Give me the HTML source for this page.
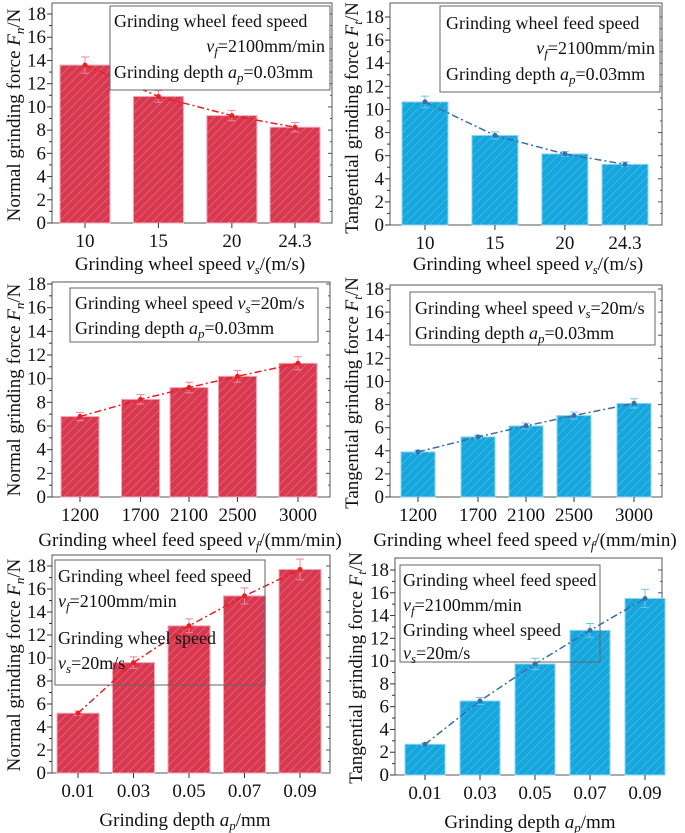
<!DOCTYPE html>
<html><head><meta charset="utf-8"><style>
html,body{margin:0;padding:0;background:#fff;}
svg{display:block;}
svg text{font-family:"Liberation Serif","Times New Roman",serif;}
</style></head><body>
<svg id="fig" width="685" height="833" viewBox="0 0 685 833" xmlns="http://www.w3.org/2000/svg" font-family="Liberation Serif, serif">
<defs>
<pattern id="hatchRed" patternUnits="userSpaceOnUse" width="6" height="6" patternTransform="rotate(45)">
<rect width="6" height="6" fill="#d8384f"/><line x1="0" y1="0" x2="0" y2="6" stroke="#e86a7c" stroke-width="1.5"/></pattern>
<pattern id="hatchBlue" patternUnits="userSpaceOnUse" width="6" height="6" patternTransform="rotate(45)">
<rect width="6" height="6" fill="#14a6dd"/><line x1="0" y1="0" x2="0" y2="6" stroke="#4cbde8" stroke-width="1.5"/></pattern>
</defs>
</svg>
<script>
// ---- data ----
const p1Cats=[10,15,20,24.3];
const p1Labels=["10","15","20","24.3"];
const p1Vals=[13.6,10.9,9.25,8.25];
const p1Err=[0.7,0.5,0.45,0.4];
const p2Vals=[10.65,7.75,6.15,5.25];
const p2Err=[0.5,0.3,0.2,0.2];
const p3Cats=[1200,1700,2100,2500,3000];
const p3Labels=["1200","1700","2100","2500","3000"];
const p3Vals=[6.8,8.25,9.25,10.2,11.3];
const p3Err=[0.35,0.4,0.45,0.5,0.55];
const p4Vals=[3.9,5.2,6.15,7.05,8.1];
const p4Err=[0.15,0.15,0.25,0.3,0.4];
const p5Cats=[0,1,2,3,4];
const p5Labels=["0.01","0.03","0.05","0.07","0.09"];
const p5Vals=[5.2,9.6,12.8,15.4,17.7];
const p5Err=[0.2,0.5,0.6,0.7,0.9];
const p6Vals=[2.7,6.5,9.75,12.7,15.5];
const p6Err=[0.1,0.3,0.5,0.6,0.8];
const yTicks=[0,2,4,6,8,10,12,14,16,18];

const svg=document.getElementById('fig');
const NS="http://www.w3.org/2000/svg";
const FF='"Liberation Serif", serif';
function mk(tag,attrs,parent){const e=document.createElementNS(NS,tag);for(const k in attrs)e.setAttribute(k,attrs[k]);(parent||svg).appendChild(e);return e;}
function rich(parent,x,y,parts,anchor,fs){
  const t=mk('text',{x:x,y:y,'font-size':fs||18,'font-family':FF,'text-anchor':anchor||'start',fill:'#111'},parent);
  parts.forEach(p=>{const s=document.createElementNS(NS,'tspan');
    if(p.i)s.setAttribute('font-style','italic');
    if(p.sub){s.setAttribute('font-size',13);s.setAttribute('dy',4);}
    if(p.up){s.setAttribute('dy',-4);}
    s.textContent=p.t;t.appendChild(s);});
  return t;
}
function panel(c){
  const g=mk('g',{});
  
  
  const ys=v=>c.y0-(c.y0-c.y18)*v/18;
  const xs=v=>c.px0+(c.px1-c.px0)*(v-c.d0)/(c.d1-c.d0);
  const fr=mk('rect',{x:c.L,y:c.T,width:c.R-c.L,height:c.y0-c.T,fill:'none',stroke:'#555','stroke-width':1},g);
  
  
  yTicks.forEach(v=>{
    const y=ys(v);
    mk('line',{x1:c.L-5,x2:c.L,y1:y,y2:y,stroke:'#333'},g);
    mk('line',{x1:c.R,x2:c.R-4,y1:y,y2:y,stroke:'#555'},g);
    if(v<18){const ym=ys(v+1);mk('line',{x1:c.L-3,x2:c.L,y1:ym,y2:ym,stroke:'#333'},g);mk('line',{x1:c.R,x2:c.R-2,y1:ym,y2:ym,stroke:'#555'},g);}
    const t=mk('text',{x:c.L-6,y:y+6,'font-size':19,'font-family':FF,'text-anchor':'end',fill:'#111'},g);
    t.textContent=String(v);
    
    
  });
  const pts=[];
  c.cats.forEach((cv,i)=>{
    const x=xs(cv),v=c.vals[i],e=c.err[i];
    const b=mk('rect',{x:x-c.bw/2,y:ys(v),width:c.bw,height:c.y0-ys(v),fill:c.fill,stroke:c.edge,'stroke-width':1},g);
    
    
    mk('line',{x1:x,x2:x,y1:ys(v+e),y2:ys(v-e),stroke:c.errc,'stroke-width':1},g);
    mk('line',{x1:x-4,x2:x+4,y1:ys(v+e),y2:ys(v+e),stroke:c.errc},g);
    mk('line',{x1:x-4,x2:x+4,y1:ys(v-e),y2:ys(v-e),stroke:c.errc},g);
    pts.push([x,ys(v)]);
    mk('line',{x1:x,x2:x,y1:c.y0,y2:c.y0+5,stroke:'#333'},g);
    const t=mk('text',{x:x,y:c.y0+24,'font-size':19,'font-family':FF,'text-anchor':'middle',fill:'#111'},g);
    t.textContent=c.labels[i];
    
    
  });
  const ln=mk('polyline',{points:pts.map(p=>p.join(',')).join(' '),fill:'none',stroke:c.line,'stroke-width':1.5,'stroke-dasharray':'7 3 2 3'},g);
  
  
  pts.forEach(p=>{mk('circle',{cx:p[0],cy:p[1],r:2.5,fill:c.line},g);});
  const lb=mk('rect',{x:c.lg[0],y:c.lg[1],width:c.lg[2]-c.lg[0],height:c.lg[3]-c.lg[1],fill:c.lgFill,stroke:'#666'},g);
  
  
  c.lgLines.forEach(l=>{const t=rich(g,l.x,l.y,l.parts,l.a,18);});
  const xl=rich(g,c.xl[0],c.xl[1],c.xlParts,'middle',19);
  
  
  const yl=rich(g,0,0,c.ylParts,'middle',19);
  yl.setAttribute('transform','translate('+c.yl[0]+','+c.yl[1]+') rotate(-90)');
  
  
}
const red={fill:'url(#hatchRed)',edge:'#f2a8b8',errc:'#e88aa0',line:'#e8201e'};
const blue={fill:'url(#hatchBlue)',edge:'#8fd6f2',errc:'#6cc8ee',line:'#3a6ea5'};
const ylN=[{t:'Normal grinding force '},{t:'F',i:1},{t:'n',i:1,sub:1},{t:'/N',up:1}];
const ylT=[{t:'Tangential grinding force '},{t:'F',i:1},{t:'t',i:1,sub:1},{t:'/N',up:1}];
const xlS=[{t:'Grinding wheel speed  '},{t:'v',i:1},{t:'s',i:1,sub:1},{t:'/(m/s)',up:1}];
const xlF=[{t:'Grinding wheel feed speed '},{t:'v',i:1},{t:'f',i:1,sub:1},{t:'/(mm/min)',up:1}];
const xlD=[{t:'Grinding depth '},{t:'a',i:1},{t:'p',i:1,sub:1},{t:'/mm',up:1}];
const L_feed=[{t:'Grinding wheel feed speed'}];
const L_vf=[{t:'v',i:1},{t:'f',i:1,sub:1},{t:'=2100mm/min',up:1}];
const L_ap=[{t:'Grinding depth '},{t:'a',i:1},{t:'p',i:1,sub:1},{t:'=0.03mm',up:1}];
const L_vs=[{t:'Grinding wheel speed '},{t:'v',i:1},{t:'s',i:1,sub:1},{t:'=20m/s',up:1}];
const L_ws=[{t:'Grinding wheel speed'}];
const L_vs2=[{t:'v',i:1},{t:'s',i:1,sub:1},{t:'=20m/s',up:1}];

panel(Object.assign({name:'panel-normal-vs-wheel-speed',L:52,R:332,T:3,y0:223,y18:14,d0:10,d1:24.3,px0:85,px1:295,bw:50,cats:p1Cats,labels:p1Labels,vals:p1Vals,err:p1Err,
 lg:[110,6,330,90],lgFill:'#fff',lgLines:[{x:114,y:27,parts:L_feed},{x:325,y:52,parts:L_vf,a:'end'},{x:114,y:78,parts:L_ap}],
 xl:[190,270],xlParts:xlS,yl:[20,115],ylParts:ylN},red));
panel(Object.assign({name:'panel-tangential-vs-wheel-speed',L:390,R:662,T:3,y0:225,y18:17,d0:10,d1:24.3,px0:425,px1:625,bw:46,cats:p1Cats,labels:p1Labels,vals:p2Vals,err:p2Err,
 lg:[440,6,660,92],lgFill:'#fff',lgLines:[{x:446,y:29,parts:L_feed},{x:655,y:54,parts:L_vf,a:'end'},{x:446,y:80,parts:L_ap}],
 xl:[528,270],xlParts:xlS,yl:[358,118],ylParts:ylT},blue));
panel(Object.assign({name:'panel-normal-vs-feed-speed',L:52,R:330,T:282,y0:497,y18:284,d0:1200,d1:3000,px0:80,px1:298,bw:38,cats:p3Cats,labels:p3Labels,vals:p3Vals,err:p3Err,
 lg:[70,288,318,342],lgFill:'#fff',lgLines:[{x:75,y:309,parts:L_vs},{x:75,y:334,parts:L_ap}],
 xl:[190,546],xlParts:xlF,yl:[20,390],ylParts:ylN},red));
panel(Object.assign({name:'panel-tangential-vs-feed-speed',L:390,R:662,T:285,y0:497,y18:289,d0:1200,d1:3000,px0:418,px1:634,bw:34,cats:p3Cats,labels:p3Labels,vals:p4Vals,err:p4Err,
 lg:[410,292,655,345],lgFill:'#fff',lgLines:[{x:415,y:314,parts:L_vs},{x:415,y:339,parts:L_ap}],
 xl:[525,546],xlParts:xlF,yl:[358,393],ylParts:ylT},blue));
panel(Object.assign({name:'panel-normal-vs-depth',L:52,R:330,T:555,y0:773,y18:566,d0:0,d1:4,px0:78,px1:300,bw:42,cats:p5Cats,labels:p5Labels,vals:p5Vals,err:p5Err,
 lg:[55,560,265,685],lgFill:'none',lgLines:[{x:58,y:582,parts:L_feed},{x:58,y:607,parts:L_vf},{x:58,y:644,parts:L_ws},{x:58,y:669,parts:L_vs2}],
 xl:[185,826],xlParts:xlD,yl:[20,665],ylParts:ylN},red));
panel(Object.assign({name:'panel-tangential-vs-depth',L:395,R:662,T:558,y0:775,y18:570,d0:0,d1:4,px0:425,px1:645,bw:40,cats:p5Cats,labels:p5Labels,vals:p6Vals,err:p6Err,
 lg:[400,565,600,662],lgFill:'none',lgLines:[{x:403,y:586,parts:L_feed},{x:403,y:611,parts:L_vf},{x:403,y:636,parts:L_ws},{x:403,y:659,parts:L_vs2}],
 xl:[530,828],xlParts:xlD,yl:[362,668],ylParts:ylT},blue));
</script>
</body></html>
